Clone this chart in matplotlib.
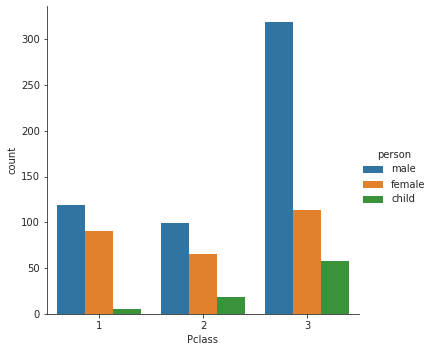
import numpy as np
import pandas as pd
import matplotlib
matplotlib.use("Agg")
import matplotlib.pyplot as plt
import seaborn as sns

pclass = [1, 2, 3]
persons = ["male", "female", "child"]
male = [119, 99, 319]
female = [91, 66, 114]
child = [6, 19, 58]

rows = []
for i, pc in enumerate(pclass):
    for name, vals in zip(persons, [male, female, child]):
        rows.append({"Pclass": pc, "person": name, "count": vals[i]})
df = pd.DataFrame(rows)

sns.set_style("ticks")
plt.rcParams["font.family"] = ["DejaVu Sans"]

fig = plt.figure(figsize=(435 / 72, 352 / 72), dpi=72)
ax = fig.add_axes([47 / 435, 1 - 314 / 352, (359 - 47) / 435, (314 - 6) / 352])
sns.barplot(data=df, x="Pclass", y="count", hue="person", hue_order=persons,
            palette=["#1f77b4", "#ff7f0e", "#2ca02c"], saturation=0.75,
            linewidth=0, ax=ax)
sns.despine(ax=ax)
ax.set_ylim(0, 336)
ax.set_yticks([0, 50, 100, 150, 200, 250, 300])
ax.tick_params(labelsize=10)
ax.set_xlabel("Pclass", fontsize=10)
ax.set_ylabel("count", fontsize=10)

handles, labels = ax.get_legend_handles_labels()
ax.get_legend().remove()
fig.legend(handles, labels, title="person", frameon=False, fontsize=10,
           title_fontsize=10, loc="center left", bbox_to_anchor=(354 / 435, 1 - 177 / 352))

fig.savefig("out.png", dpi=72)
